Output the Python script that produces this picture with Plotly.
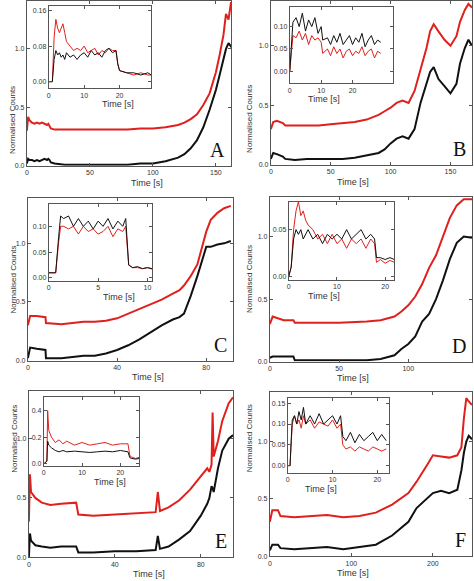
import plotly.graph_objects as go

W, H = 474, 581
RED = "#e0201c"
BLACK = "#111111"

# ---- main panels: time [s], red and black normalised counts ----
a_t = [0, 1, 2, 4, 6, 8, 10, 12, 14, 16, 17, 18, 19, 22, 30, 40, 50, 60, 70, 80, 90, 100, 110, 120,
       125, 130, 135, 140, 145, 150, 153, 156, 158, 160, 162, 165]
a_red = [0.30, 0.42, 0.39, 0.37, 0.36, 0.37, 0.36, 0.37, 0.36, 0.35, 0.36, 0.34, 0.32, 0.31, 0.31, 0.31,
         0.31, 0.31, 0.31, 0.31, 0.32, 0.32, 0.33, 0.35, 0.37, 0.40, 0.44, 0.52, 0.62, 0.80, 0.95,
         1.12, 1.30, 1.25, 1.40, 1.32]
a_blk = [0.02, 0.06, 0.05, 0.05, 0.04, 0.05, 0.04, 0.05, 0.06, 0.05, 0.06, 0.05, 0.03, 0.02, 0.01, 0.01,
         0.01, 0.01, 0.01, 0.01, 0.02, 0.02, 0.04, 0.07, 0.10, 0.15, 0.22, 0.33, 0.48, 0.65, 0.78,
         0.90, 1.00, 1.05, 1.02, 1.05]

b_t = [0, 2, 5, 10, 12, 20, 30, 40, 50, 60, 70, 80, 90, 95, 100, 105, 110, 115, 120, 125, 130, 133,
       136, 140, 145, 150, 155, 158, 162, 165, 168]
b_red = [0.30, 0.36, 0.37, 0.35, 0.33, 0.33, 0.33, 0.33, 0.34, 0.35, 0.36, 0.38, 0.42, 0.45, 0.48,
         0.52, 0.54, 0.52, 0.62, 0.80, 0.98, 1.12, 1.18, 1.12, 1.05, 1.00, 1.08, 1.20, 1.30, 1.35, 1.32]
b_blk = [0.05, 0.10, 0.09, 0.07, 0.05, 0.04, 0.05, 0.05, 0.05, 0.05, 0.06, 0.08, 0.10, 0.13, 0.18,
         0.22, 0.24, 0.22, 0.30, 0.52, 0.68, 0.78, 0.82, 0.72, 0.66, 0.60, 0.68, 0.85, 0.98, 1.05, 1.00]

c_t = [0, 1, 4, 7, 7.9, 8.1, 15, 20, 25, 30, 35, 40, 45, 50, 55, 60, 65, 68, 70, 73, 76, 78, 80, 82,
       85, 88, 91]
c_red = [0.30, 0.38, 0.38, 0.37, 0.37, 0.32, 0.31, 0.32, 0.33, 0.33, 0.34, 0.36, 0.40, 0.44, 0.48,
         0.52, 0.57, 0.60, 0.64, 0.72, 0.82, 0.95, 1.10, 1.20, 1.26, 1.30, 1.32]
c_blk = [0.02, 0.11, 0.10, 0.09, 0.09, 0.02, 0.02, 0.03, 0.04, 0.04, 0.06, 0.09, 0.13, 0.18, 0.24,
         0.30, 0.35, 0.37, 0.40, 0.55, 0.72, 0.85, 0.97, 0.97, 0.99, 1.00, 1.02]

d_t = [0, 2, 10, 17, 18, 30, 50, 70, 80, 90, 95, 100, 105, 110, 115, 120, 125, 130, 135, 140, 146]
d_red = [0.30, 0.36, 0.33, 0.33, 0.31, 0.31, 0.31, 0.32, 0.33, 0.36, 0.40, 0.45, 0.52, 0.62, 0.75,
         0.85, 1.00, 1.15, 1.25, 1.30, 1.30]
d_blk = [0.03, 0.04, 0.04, 0.04, 0.01, 0.01, 0.01, 0.01, 0.02, 0.05, 0.10, 0.14, 0.20, 0.32, 0.38,
         0.50, 0.65, 0.82, 0.95, 1.00, 0.99]

e_t = [0, 0.5, 1, 3, 6, 10, 15, 20, 22, 23, 30, 40, 50, 59, 60, 61, 65, 70, 75, 80, 83, 84, 85,
       85.5, 86, 88, 90, 93, 95]
e_red = [0.30, 0.70, 0.55, 0.50, 0.46, 0.44, 0.45, 0.46, 0.46, 0.36, 0.35, 0.36, 0.37, 0.38, 0.55,
         0.39, 0.42, 0.48, 0.57, 0.68, 0.75, 0.72, 0.78, 1.22, 0.85, 0.98, 1.15, 1.30, 1.35]
e_blk = [0.00, 0.20, 0.14, 0.10, 0.09, 0.08, 0.09, 0.09, 0.09, 0.04, 0.04, 0.05, 0.05, 0.06, 0.18,
         0.07, 0.09, 0.15, 0.22, 0.35, 0.45, 0.50, 0.60, 0.58, 0.55, 0.75, 0.90, 1.00, 1.03]

f_t = [0, 3, 10, 13, 30, 50, 70, 90, 110, 130, 150, 170, 180, 195, 200, 210, 220, 230, 235, 238,
       241, 244, 248]
f_red = [0.30, 0.40, 0.40, 0.35, 0.34, 0.35, 0.36, 0.34, 0.35, 0.38, 0.45, 0.55, 0.65, 0.82, 0.88,
         0.87, 0.86, 0.88, 0.95, 1.20, 1.38, 1.35, 1.32]
f_blk = [0.05, 0.10, 0.10, 0.07, 0.06, 0.07, 0.08, 0.06, 0.08, 0.10, 0.18, 0.30, 0.42, 0.52, 0.55,
         0.57, 0.55, 0.58, 0.75, 0.90, 1.00, 1.05, 1.02]

# ---- insets ----
ia_t = [0, 1, 1.5, 2, 2.5, 3, 3.5, 4, 4.5, 5, 6, 7, 8, 9, 10, 11, 12, 13, 14, 15, 16, 17, 18, 19,
        19.5, 20, 22, 24, 26, 28, 29]
ia_red = [0.0, 0.0, 0.10, 0.14, 0.12, 0.11, 0.12, 0.13, 0.11, 0.09, 0.08, 0.07, 0.075, 0.07, 0.08,
          0.065, 0.07, 0.075, 0.06, 0.07, 0.065, 0.075, 0.07, 0.07, 0.04, 0.025, 0.02, 0.015, 0.02,
          0.015, 0.015]
ia_blk = [0.0, 0.0, 0.05, 0.07, 0.06, 0.065, 0.055, 0.06, 0.05, 0.065, 0.055, 0.06, 0.05, 0.06,
          0.065, 0.055, 0.07, 0.06, 0.065, 0.055, 0.07, 0.075, 0.065, 0.07, 0.04, 0.025, 0.02, 0.02,
          0.015, 0.02, 0.015]

ib_t = [0, 0.5, 1, 2, 3, 4, 5, 6, 7, 8, 9, 10, 10.5, 12, 13, 14, 15, 16, 17, 18, 19, 20, 21, 22, 23,
        24, 25, 26, 27, 28, 29]
ib_red = [0.0, 0.05, 0.08, 0.075, 0.09, 0.07, 0.085, 0.06, 0.08, 0.07, 0.075, 0.065, 0.04, 0.05,
          0.035, 0.055, 0.04, 0.05, 0.03, 0.045, 0.05, 0.035, 0.045, 0.04, 0.055, 0.035, 0.045, 0.05,
          0.03, 0.045, 0.04]
ib_blk = [0.0, 0.07, 0.11, 0.12, 0.10, 0.13, 0.09, 0.115, 0.10, 0.12, 0.085, 0.10, 0.07, 0.075,
          0.06, 0.08, 0.065, 0.085, 0.06, 0.07, 0.08, 0.06, 0.075, 0.065, 0.085, 0.055, 0.07, 0.08,
          0.06, 0.07, 0.065]

ic_t = [0, 0.7, 1.0, 1.2, 1.5, 2, 2.5, 3, 3.5, 4, 4.5, 5, 5.5, 6, 6.5, 7, 7.5, 7.8, 8.1, 8.5, 9,
        9.5, 10, 10.5]
ic_red = [0.01, 0.01, 0.07, 0.10, 0.10, 0.095, 0.10, 0.085, 0.10, 0.09, 0.095, 0.085, 0.09, 0.10,
          0.08, 0.095, 0.09, 0.10, 0.025, 0.02, 0.02, 0.018, 0.02, 0.017]
ic_blk = [0.01, 0.01, 0.08, 0.12, 0.115, 0.12, 0.10, 0.115, 0.10, 0.11, 0.095, 0.11, 0.10, 0.115,
          0.095, 0.11, 0.10, 0.115, 0.025, 0.02, 0.022, 0.018, 0.02, 0.018]

id_t = [0, 0.5, 1, 1.5, 2, 2.5, 3, 3.5, 4, 5, 6, 7, 8, 9, 10, 11, 12, 13, 14, 15, 16, 17, 17.8, 18.2,
        19, 20, 21, 21.9]
id_red = [0.0, 0.01, 0.05, 0.07, 0.08, 0.065, 0.07, 0.06, 0.055, 0.05, 0.04, 0.045, 0.035, 0.045,
          0.035, 0.04, 0.03, 0.04, 0.035, 0.04, 0.03, 0.04, 0.035, 0.015, 0.018, 0.014, 0.017, 0.015]
id_blk = [0.0, 0.01, 0.04, 0.05, 0.045, 0.05, 0.04, 0.045, 0.05, 0.04, 0.045, 0.035, 0.045, 0.04,
          0.045, 0.04, 0.05, 0.04, 0.045, 0.05, 0.04, 0.045, 0.04, 0.02, 0.02, 0.018, 0.02, 0.018]

ie_t = [0, 0.8, 1, 1.3, 2, 3, 4, 5, 6, 8, 10, 12, 14, 16, 18, 20, 22, 22.5, 23, 24, 25]
ie_red = [0.0, 0.02, 0.40, 0.25, 0.20, 0.16, 0.18, 0.15, 0.17, 0.14, 0.16, 0.14, 0.15, 0.16, 0.14,
          0.15, 0.15, 0.06, 0.05, 0.04, 0.05]
ie_blk = [0.0, 0.02, 0.17, 0.14, 0.12, 0.10, 0.09, 0.10, 0.09, 0.095, 0.09, 0.085, 0.09, 0.095,
          0.09, 0.10, 0.09, 0.045, 0.04, 0.035, 0.04]

if_t = [0, 0.5, 0.8, 1, 1.5, 2, 2.5, 3, 3.5, 4, 5, 6, 7, 8, 9, 10, 11, 11.8, 12.3, 13, 14, 15, 16,
        17, 18, 19, 20, 21, 22]
if_red = [0.0, 0.0, 0.06, 0.10, 0.12, 0.10, 0.11, 0.09, 0.12, 0.10, 0.11, 0.09, 0.105, 0.10, 0.095,
          0.11, 0.09, 0.10, 0.05, 0.04, 0.045, 0.035, 0.045, 0.04, 0.035, 0.045, 0.04, 0.035, 0.04]
if_blk = [0.0, 0.0, 0.07, 0.11, 0.12, 0.10, 0.13, 0.11, 0.14, 0.10, 0.12, 0.10, 0.125, 0.10, 0.11,
          0.12, 0.10, 0.12, 0.07, 0.06, 0.08, 0.055, 0.075, 0.06, 0.07, 0.08, 0.06, 0.075, 0.06]

# panel: letter, data, px box (x0, x1, ytop, ybottom), x range, y range, x ticks, y ticks
panels = [
    ("A", a_t, a_red, a_blk, (25, 230, 0, 166), [0, 162], [0, 1.41], [0, 50, 100, 150], [0, 0.5, 1.0]),
    ("B", b_t, b_red, b_blk, (270, 472, 0, 165), [0, 168], [0, 1.375], [0, 50, 100, 150], [0, 0.5, 1.0]),
    ("C", c_t, c_red, c_blk, (26, 232, 198, 362), [0, 92], [0, 1.39], [0, 40, 80], [0, 0.5, 1.0]),
    ("D", d_t, d_red, d_blk, (269, 472, 197, 363), [0, 146], [0, 1.32], [0, 50, 100], [0, 0.5, 1.0]),
    ("E", e_t, e_red, e_blk, (27, 232, 393, 560), [0, 95], [0, 1.40], [0, 40, 80], [0, 0.5, 1.0]),
    ("F", f_t, f_red, f_blk, (269, 472, 394, 559), [0, 248], [0, 1.43], [0, 100, 200], [0, 0.5, 1.0]),
]
insets = [
    (ia_t, ia_red, ia_blk, (47, 150, 5, 88), [0, 29], [-0.015, 0.17], [0, 10, 20], [0, 0.08, 0.16], ".2f"),
    (ib_t, ib_red, ib_blk, (289, 393, 6, 83), [0, 33], [-0.027, 0.144], [0, 10, 20], [0, 0.05, 0.10], ".2f"),
    (ic_t, ic_red, ic_blk, (47, 151, 204, 282), [0, 10.5], [-0.006, 0.144], [0, 5, 10], [0, 0.05, 0.10], ".2f"),
    (id_t, id_red, id_blk, (288, 394, 202, 281), [0, 21.9], [-0.004, 0.080], [0, 10, 20], [0, 0.05], ".2f"),
    (ie_t, ie_red, ie_blk, (42, 138, 399, 468), [0, 25], [-0.015, 0.5], [0, 10, 20], [0, 0.2, 0.4], ".1f"),
    (if_t, if_red, if_blk, (287, 389, 400, 475), [0, 22.7], [-0.017, 0.162], [0, 10, 20], [0, 0.05, 0.10, 0.15], ".2f"),
]

fig = go.Figure()
layout = {}
annotations = []
shapes = []


def add_axes(n, box, xr, yr, xt, yt, yfmt, fs):
    x0, x1, y0, y1 = box
    xa, ya = f"xaxis{n}" if n > 1 else "xaxis", f"yaxis{n}" if n > 1 else "yaxis"
    common = dict(showline=True, linecolor="#555", linewidth=1, mirror="ticks", ticks="inside",
                  ticklen=3, tickcolor="#555", showgrid=False, zeroline=False,
                  tickfont=dict(size=fs, family="Arial, Liberation Sans", color="#333"))
    layout[xa] = dict(domain=[x0 / W, x1 / W], range=xr, tickvals=xt, anchor=f"y{n}", **common)
    layout[ya] = dict(domain=[1 - y1 / H, 1 - y0 / H], range=yr, tickvals=yt, tickformat=yfmt,
                      anchor=f"x{n}", **common)
    # white background behind each axes box
    shapes.append(dict(type="rect", xref="paper", yref="paper", x0=x0 / W, x1=x1 / W,
                       y0=1 - y1 / H, y1=1 - y0 / H, fillcolor="white", line_width=0, layer="below"))


n = 1
for letter, t, red, blk, box, xr, yr, xt, yt in panels:
    add_axes(n, box, xr, yr, xt, yt, ".1f", 7)
    for ys, c in ((red, RED), (blk, BLACK)):
        fig.add_trace(go.Scatter(x=t, y=ys, mode="lines", line=dict(color=c, width=2),
                                 xaxis=f"x{n}", yaxis=f"y{n}", showlegend=False))
    x0, x1, y0, y1 = box
    annotations.append(dict(text=letter, x=(x1 - 4) / W, y=1 - (y1 - 3) / H, xref="paper", yref="paper",
                            xanchor="right", yanchor="bottom", showarrow=False,
                            font=dict(size=20, family="Liberation Serif", color="#111")))
    annotations.append(dict(text="Time [s]", x=(x0 + x1) / 2 / W, y=1 - (y1 + 10) / H, xref="paper",
                            yref="paper", yanchor="top", showarrow=False,
                            font=dict(size=9, family="Arial, Liberation Sans", color="#333")))
    annotations.append(dict(text="Normalised Counts", x=(x0 - 21) / W, y=1 - (y0 + y1) / 2 / H,
                            xref="paper", yref="paper", textangle=-90, showarrow=False,
                            font=dict(size=8, family="Arial, Liberation Sans", color="#333")))
    n += 1

for t, red, blk, box, xr, yr, xt, yt, fmt in insets:
    add_axes(n, box, xr, yr, xt, yt, fmt, 7)
    for ys, c in ((red, RED), (blk, BLACK)):
        fig.add_trace(go.Scatter(x=t, y=ys, mode="lines", line=dict(color=c, width=1),
                                 xaxis=f"x{n}", yaxis=f"y{n}", showlegend=False))
    x0, x1, y0, y1 = box
    annotations.append(dict(text="Time [s]", x=(x0 + x1) / 2 / W, y=1 - (y1 + 9) / H, xref="paper",
                            yref="paper", yanchor="top", showarrow=False,
                            font=dict(size=9, family="Arial, Liberation Sans", color="#333")))
    n += 1

fig.update_layout(width=W, height=H, margin=dict(l=0, r=0, t=0, b=0), plot_bgcolor="rgba(0,0,0,0)",
                  paper_bgcolor="white", annotations=annotations, shapes=shapes, **layout)
fig.write_html("out.html", config={"displayModeBar": False},
               post_script="document.body.style.margin='0';document.body.style.overflow='hidden';")
